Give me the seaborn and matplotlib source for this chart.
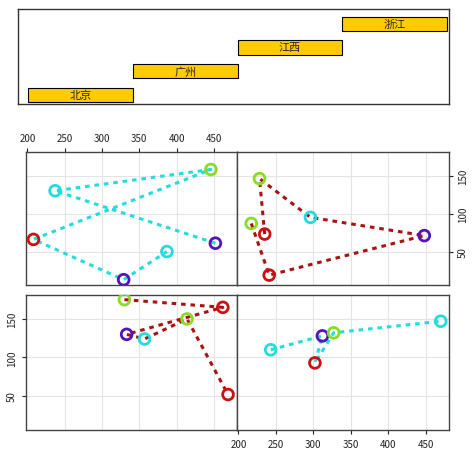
import matplotlib
matplotlib.use("Agg")
import matplotlib.pyplot as plt
import seaborn as sns
import pandas as pd

sns.set_style("white")
plt.rcParams['font.family'] = ['Noto Sans CJK SC', 'DejaVu Sans']

provinces = ['北京', '广州', '江西', '浙江']
shingle_lo = [0, 1, 2, 3]
shingle_hi = [1, 2, 3, 4]

# panel order: top-left, top-right, bottom-left, bottom-right
p1_x = [452, 237, 446, 208, 329, 387]
p1_y = [61, 130, 158, 66, 13, 50]
p1_c = ['purple', 'cyan', 'green', 'red', 'purple', 'cyan']
p2_x = [235, 228, 296, 448, 241, 217]
p2_y = [73, 146, 95, 71, 19, 87]
p2_c = ['red', 'green', 'cyan', 'purple', 'red', 'green']
p3_x = [330, 462, 333, 357, 414, 469]
p3_y = [175, 165, 130, 124, 150, 52]
p3_c = ['green', 'red', 'purple', 'cyan', 'green', 'red']
p4_x = [243, 312, 302, 327, 470]
p4_y = [110, 128, 93, 132, 147]
p4_c = ['cyan', 'purple', 'red', 'green', 'cyan']

line_cols = ['#22DDDD', '#AA1111', '#AA1111', '#22DDDD']
pal = {'red': '#CC1111', 'cyan': '#22DDDD', 'green': '#88DD22', 'purple': '#5511BB'}

W, H = 474, 460
fig = plt.figure(figsize=(W/100, H/100), dpi=100)

def ax_px(l, t, r, b):
    return fig.add_axes([l/W, 1-b/H, (r-l)/W, (b-t)/H])

# shingle panel
axs = ax_px(18, 10, 449, 105)
for i, (p, lo, hi) in enumerate(zip(provinces, shingle_lo, shingle_hi)):
    axs.barh(i+1, hi-lo, left=lo, height=0.6, color='#FFCC00', edgecolor='black', linewidth=0.8)
    axs.text((lo+hi)/2, i+1, p, ha='center', va='center', fontsize=8)
axs.set_xlim(-0.1, 4.02)
axs.set_ylim(0.62, 4.62)
axs.set_xticks([]); axs.set_yticks([])
for s in axs.spines.values():
    s.set_color('#333333'); s.set_linewidth(1)

panels = [(p1_x, p1_y, p1_c, (26, 153, 237, 286)),
          (p2_x, p2_y, p2_c, (237, 153, 449, 286)),
          (p3_x, p3_y, p3_c, (26, 296, 237, 431)),
          (p4_x, p4_y, p4_c, (237, 296, 449, 431))]
for k, (xs, ys, cs, box) in enumerate(panels):
    ax = ax_px(*box)
    df = pd.DataFrame({'x': xs, 'y': ys, 'c': cs})
    for v in [250, 300, 350, 400, 450]:
        ax.axvline(v, color='#E4E4E4', lw=0.8, zorder=0)
    for v in [50, 100, 150]:
        ax.axhline(v, color='#E4E4E4', lw=0.8, zorder=0)
    sns.lineplot(data=df, x='x', y='y', sort=False, estimator=None, ax=ax,
                 color=line_cols[k], lw=2.2, linestyle=(0, (1.5, 1.6)))
    sns.scatterplot(data=df, x='x', y='y', hue='c', palette=pal, ax=ax, s=60,
                    facecolors='none', linewidth=2, legend=False, zorder=3)
    for coll in ax.collections:
        coll.set_facecolor('none')
        coll.set_edgecolor([pal[c] for c in cs])
    ax.set_xlim(198, 481)
    ax.set_ylim(6, 181)
    ax.set_xlabel(''); ax.set_ylabel('')
    ax.set_xticks([200, 250, 300, 350, 400, 450])
    ax.set_yticks([50, 100, 150])
    ax.tick_params(labelsize=7, length=3, colors='#222222')
    ax.tick_params(top=False, bottom=False, left=False, right=False,
                   labeltop=False, labelbottom=False, labelleft=False, labelright=False)
    if k == 0:
        ax.tick_params(top=True, labeltop=True)
    if k == 1:
        ax.tick_params(right=True, labelright=True)
        plt.setp(ax.get_yticklabels(), rotation=90, va='center')
    if k == 2:
        ax.tick_params(left=True, labelleft=True)
        plt.setp(ax.get_yticklabels(), rotation=90, va='center')
    if k == 3:
        ax.tick_params(bottom=True, labelbottom=True)
    for s in ax.spines.values():
        s.set_color('#444444'); s.set_linewidth(1)

fig.savefig('out.png', dpi=100)
